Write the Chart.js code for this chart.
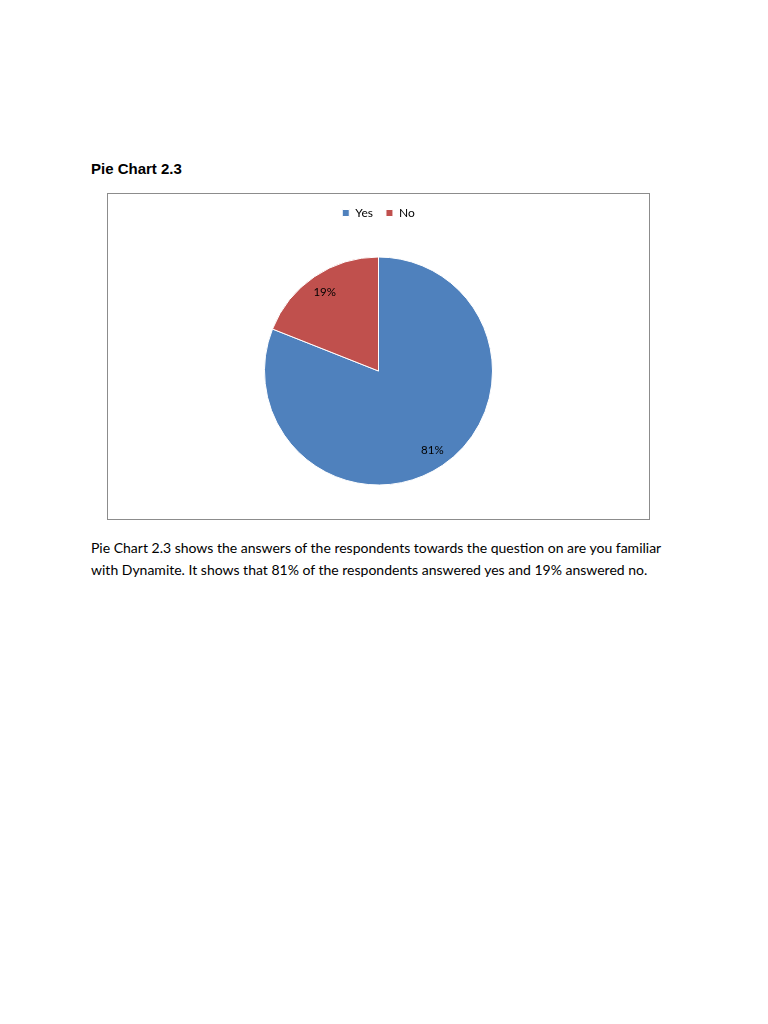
<!DOCTYPE html>
<html>
<head>
<meta charset="utf-8">
<script src="https://cdn.jsdelivr.net/npm/chart.js@4/dist/chart.umd.min.js"></script>
<style>
  body { margin: 0; background: #fff; width: 768px; height: 1024px; position: relative; }
  #title { position: absolute; left: 91px; top: 160px; font: bold 15px "Liberation Sans", Arial, sans-serif; color: #000; }
  #box { position: absolute; left: 107px; top: 193px; width: 541px; height: 325px; border: 1px solid #8c8c8c; }
  #note { position: absolute; left: 91px; top: 537px; width: 640px; font: 14px Lato, "Open Sans", sans-serif; line-height: 22px; color: #000; }
</style>
</head>
<body>
<div id="title">Pie Chart 2.3</div>
<div id="box"><canvas id="chart"></canvas></div>
<div id="note">Pie Chart 2.3 shows the answers of the respondents towards the question on are you familiar<br>with Dynamite. It shows that 81% of the respondents answered yes and 19% answered no.</div>
<script>
var LABELS = ['Yes', 'No'];
var VALUES = [81, 19];
var COLORS = ['#4f81bd', '#c0504d'];

// percent labels inside the slices, like the office chart
var pctLabels = {
  id: 'pctLabels',
  afterDatasetsDraw: function(chart) {
    var c = chart.ctx;
    var meta = chart.getDatasetMeta(0);
    c.save();
    c.font = '11.5px Lato, "Open Sans", sans-serif';
    c.fillStyle = '#000';
    c.textAlign = 'center';
    c.textBaseline = 'middle';
    meta.data.forEach(function(arc, i) {
      var mid = (arc.startAngle + arc.endAngle) / 2;
      var r = arc.outerRadius * 0.84;
      c.fillText(VALUES[i] + '%', arc.x + Math.cos(mid) * r, arc.y + Math.sin(mid) * r);
    });
    c.restore();
  }
};

var ctx = document.getElementById('chart');
var chart = new Chart(ctx, {
  type: 'pie',
  data: {
    labels: LABELS,
    datasets: [{
      data: VALUES,
      backgroundColor: COLORS,
      borderColor: '#fff',
      borderWidth: 1
    }]
  },
  options: {
    responsive: true,
    maintainAspectRatio: false,
    animation: false,
    radius: 114,
    layout: { padding: { top: 0, bottom: 6, left: 0, right: 0 } },
    plugins: {
      tooltip: { enabled: false },
      legend: {
        position: 'top',
        labels: {
          boxWidth: 7,
          boxHeight: 7,
          padding: 13,
          color: '#000',
          font: { family: 'Lato, "Open Sans", sans-serif', size: 12 }
        }
      }
    }
  },
  plugins: [pctLabels]
});
</script>
</body>
</html>
